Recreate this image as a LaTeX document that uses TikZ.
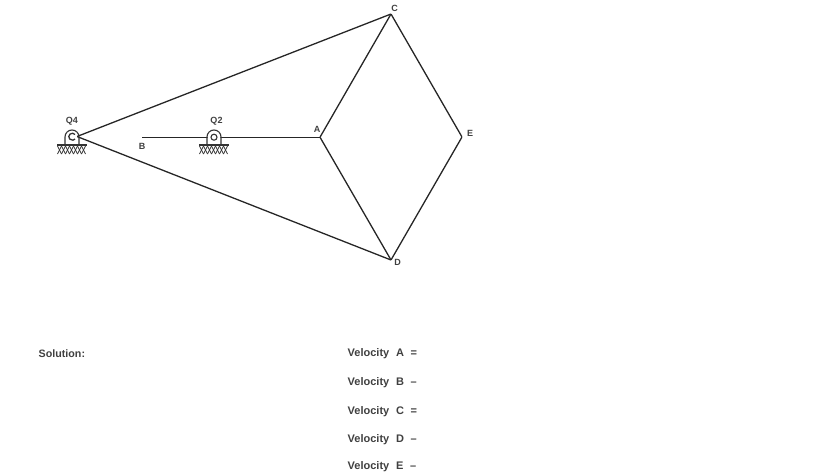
\documentclass[tikz,border=0pt]{standalone}
\usepackage{fontspec}
\setmainfont{Liberation Sans}
\newfontfamily\vtxt[WordSpace=2.2]{Liberation Sans}
\tikzset{
  link/.style={draw=black!85,line width=1.3pt},
  lab/.style={inner sep=0pt,font=\fontsize{9}{10}\selectfont\bfseries,text=black!75},
  txt/.style={inner sep=0pt,anchor=west,font=\vtxt\fontsize{11}{12}\selectfont\bfseries,text=black!75},
  soltxt/.style={inner sep=0pt,anchor=west,font=\fontsize{10.7}{12}\selectfont\bfseries,text=black!75},
  pt/.style={inner sep=0pt,minimum size=0pt},
  hatch/.style={draw=black!80,line width=0.85pt}
}
\newcommand{\ground}[2]{%
  \draw[hatch,line width=1.1pt] (#1-7,#2+8) -- (#1-7,#2) arc[start angle=180,end angle=360,radius=7] -- (#1+7,#2+8);
  \draw[hatch,line width=1.1pt] (#1-15,#2+8) -- (#1+15,#2+8);
  \foreach \k in {0,...,6}{\draw[hatch] (#1-14.5+4*\k,#2+9) -- (#1-10.5+4*\k,#2+17);\draw[hatch] (#1-14.5+4*\k,#2+17) -- (#1-10.5+4*\k,#2+9);}
}
\begin{document}
\begin{tikzpicture}[x=1pt,y=-1pt]
\useasboundingbox (0,0) rectangle (819,474);
\node[pt] (Q4) at (77,136.5) {};
\node[pt] (Q2) at (214,137.2) {};
\node[pt] (B) at (142,137.2) {};
\node[pt] (A) at (320,137.2) {};
\node[pt] (C) at (391,14) {};
\node[pt] (D) at (391,260) {};
\node[pt] (E) at (462,137) {};
\draw[link] (B) -- (A);
\draw[link] (Q4) -- (C);
\draw[link] (Q4) -- (D);
\draw[link] (A) -- (C);
\draw[link] (A) -- (D);
\draw[link] (C) -- (E);
\draw[link] (D) -- (E);
\fill[white] (214,137.2) circle[radius=6.5];
\ground{72}{137}
\ground{214}{137}
\draw[hatch,line width=1.1pt] (214,137.2) circle[radius=3];
\draw[hatch,line width=1.3pt] (75,134.5) arc[start angle=-40,end angle=-320,radius=3.5];
\node[lab] (lQ4) at (72,121) {Q4};
\node[lab] (lQ2) at (216.5,121) {Q2};
\node[lab] (lB) at (142,146.5) {B};
\node[lab] (lA) at (317,129.5) {A};
\node[lab] (lC) at (394.5,8) {C};
\node[lab] (lD) at (397.5,262.5) {D};
\node[lab] (lE) at (470,133.5) {E};
\node[soltxt] (sol) at (38.5,354) {Solution:};
\node[txt] (va) at (347.5,354) {Velocity A =};
\node[txt] (vb) at (347.5,383) {Velocity B –};
\node[txt] (vc) at (347.5,412) {Velocity C =};
\node[txt] (vd) at (347.5,440) {Velocity D –};
\node[txt] (ve) at (347.5,466.5) {Velocity E –};
\end{tikzpicture}
\end{document}
